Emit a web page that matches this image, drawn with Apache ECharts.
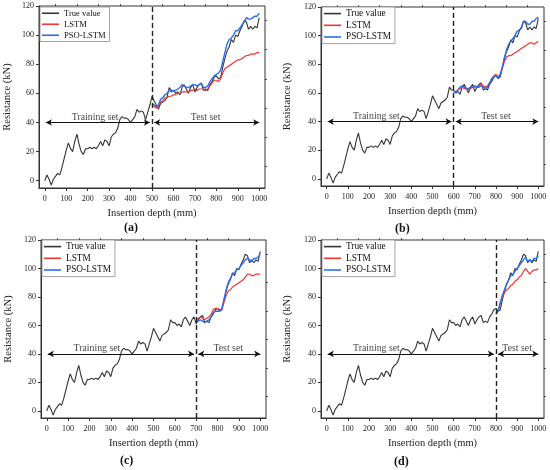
<!DOCTYPE html>
<html>
<head>
<meta charset="utf-8">
<script src="https://cdn.jsdelivr.net/npm/echarts@6/dist/echarts.min.js"></script>
<style>html,body{margin:0;padding:0;background:#fff;}#c{width:550px;height:470px;}</style>
</head>
<body>
<div id="c"></div>
<script>
// ---------- data ----------
const depth = [0,10,20,30,40,50,60,70,80,90,100,110,120,130,140,150,160,170,180,190,200,210,220,230,240,250,260,270,280,290,300,310,320,330,340,350,360,370,380,390,400,410,420,430,440,450,460,470,480,490,500,510,520,530,540,550,560,570,580,590,600,610,620,630,640,650,660,670,680,690,700,710,720,730,740,750,760,770,780,790,800,810,820,830,840,850,860,870,880,890,900,910,920,930,940,950,960,970,980,990,1000];
const trueValue = [0,4,1,-3,1,3,5,4,9,15,21,26,22,20,27,32,25,20,18,22,22,23,22,23,22,24,27,24,28,27,24,30,32,33,36,42,44,43,43,42,40,42,44,49,47,48,47,42,47,52,58,55,52,49,53,54,55,57,64,62,62,60,61,59,64,66,63,60,64,66,61,64,66,67,62,63,62,66,68,71,72,70,71,78,84,89,92,97,95,100,99,103,106,110,109,104,106,104,106,105,112];
const splits = [500, 600, 700, 800];
// LSTM / PSO-LSTM predictions, every 10 mm from the split to 1000 mm
const lstmA = [52,51,50,51,54,55,57,57,58,58,59,59,60,60,61,61,61,61,62,62,63,62,63,63,63,62,63,65,67,69,69,68,70,74,77,78,79,80,81,82,83,83,84,85,86,86,87,87,87,88,88];
const psoA  = [53,52,51,52,56,57,59,60,62,61,62,62,63,64,66,65,64,64,65,66,66,65,66,67,64,64,65,68,70,72,73,74,76,82,88,94,97,98,100,103,103,105,107,109,112,111,111,112,113,113,115];
const lstmB = [61,61,62,63,64,63,63,62,63,64,64,64,65,66,65,64,65,67,70,72,73,71,72,77,82,85,86,86,87,88,89,90,91,92,93,94,95,95,94,95,96];
const psoB  = [61,60,62,64,65,64,63,63,64,64,65,64,64,65,64,63,64,67,70,71,72,71,73,78,85,90,94,96,98,100,103,104,105,110,110,108,108,110,110,112,113];
const lstmC = [64,65,66,65,64,65,66,68,71,72,72,71,71,76,81,84,85,87,88,89,90,91,92,94,96,96,95,95,96,96,96];
const psoC  = [63,63,64,63,62,63,64,66,69,70,70,70,72,78,85,90,93,96,97,99,100,102,104,106,107,106,105,107,107,108,110];
const lstmD = [68,70,75,80,83,85,86,88,89,91,92,94,95,98,100,98,96,98,99,99,100];
const psoD  = [68,70,76,81,85,89,92,95,96,98,100,102,104,106,108,105,106,105,107,107,109];
const lstmAll = [lstmA, lstmB, lstmC, lstmD];
const psoAll = [psoA, psoB, psoC, psoD];
const xTicks = [0,100,200,300,400,500,600,700,800,900,1000];
const xMinor = [50,150,250,350,450,550,650,750,850,950];
const yTicks = [0,20,40,60,80,100,120];
const yMinor = [10,30,50,70,90,110];
const panelLabels = ['(a)','(b)','(c)','(d)'];
const seriesNames = ['True value','LSTM','PSO-LSTM'];
const annotTexts = ['Training set','Test set'];
const annotLevel = 40;
const trainTextX = 235;
const xName = 'Insertion depth (mm)';
const yName = 'Resistance (kN)';

// ---------- layout / style ----------
const FONT = "'Liberation Serif','Times New Roman',serif";
const layout = [
  {left:39,  top:6,   width:226, height:182, yGap:26, legend:{left:40, top:7,   fs:8.6, lh:10.5}, lab:[132,229]},
  {left:321, top:7,   width:223, height:179, yGap:28, legend:{left:322, top:7,   fs:9.3, lh:11.2}, lab:[403,230]},
  {left:41,  top:240, width:225, height:178, yGap:27, legend:{left:42,  top:240, fs:9.3, lh:11.2}, lab:[128,462]},
  {left:321, top:240, width:223, height:178, yGap:28, legend:{left:322, top:240, fs:9.3, lh:11.2}, lab:[402,463]}
];
const colors = ['#363636', '#f03535', '#2a6ef0'];
const XMIN = -27, XMAX = 1027, YMIN = -5, YMAX = 120;

const grid = [], xAxis = [], yAxis = [], series = [], legend = [], graphic = [];
layout.forEach((L, i) => {
  grid.push({left:L.left, top:L.top, width:L.width, height:L.height, show:true,
             borderColor:'#333', borderWidth:1, backgroundColor:'transparent', containLabel:false});
  xAxis.push({type:'value', gridIndex:i, min:XMIN, max:XMAX,
    axisLine:{show:true, onZero:false, lineStyle:{color:'#333', width:1}},
    axisTick:{show:true, inside:false, length:3, customValues:xTicks, lineStyle:{color:'#333'}},
    axisLabel:{show:true, customValues:xTicks, margin:7, fontSize:8, color:'#222', fontFamily:FONT,
      formatter: v => String(v)},
    splitLine:{show:false},
    name:xName, nameLocation:'middle', nameGap:20,
    nameTextStyle:{fontSize:10.5, color:'#222', fontFamily:FONT}});
  xAxis.push({type:'value', gridIndex:i, min:XMIN, max:XMAX,
    axisLine:{show:false, onZero:false},
    axisTick:{show:true, inside:false, length:1.8, customValues:xMinor, lineStyle:{color:'#333'}},
    axisLabel:{show:false}, splitLine:{show:false}});
  yAxis.push({type:'value', gridIndex:i, min:YMIN, max:YMAX,
    axisLine:{show:true, onZero:false, lineStyle:{color:'#333', width:1}},
    axisTick:{show:true, inside:false, length:3, customValues:yTicks, lineStyle:{color:'#333'}},
    axisLabel:{show:true, customValues:yTicks, margin:5, fontSize:8, color:'#222', fontFamily:FONT,
      formatter: v => String(v)},
    splitLine:{show:false},
    name:yName, nameLocation:'middle', nameGap:L.yGap, nameRotate:90,
    nameTextStyle:{fontSize:10.5, color:'#222', fontFamily:FONT}});
  yAxis.push({type:'value', gridIndex:i, min:YMIN, max:YMAX,
    axisLine:{show:false, onZero:false},
    axisTick:{show:true, inside:false, length:1.8, customValues:yMinor, lineStyle:{color:'#333'}},
    axisLabel:{show:false}, splitLine:{show:false}});

  const xi = 2*i, yi = 2*i;
  const split = splits[i];
  const startIdx = depth.indexOf(split);
  const testDepth = depth.slice(startIdx);

  series.push({name:seriesNames[0], type:'line', xAxisIndex:xi, yAxisIndex:yi,
    data: depth.map((d, k) => [d, trueValue[k]]), symbol:'none', showSymbol:false,
    lineStyle:{color:colors[0], width:1.1}, itemStyle:{color:colors[0]}, z:2, animation:false,
    markLine:{silent:true, symbol:['none','none'], animation:false, label:{show:false},
      lineStyle:{type:[5,3], color:'#222', width:1.4},
      data:[{xAxis:split}]}});
  series.push({name:seriesNames[1], type:'line', xAxisIndex:xi, yAxisIndex:yi,
    data: testDepth.map((d, k) => [d, lstmAll[i][k]]), symbol:'none', showSymbol:false,
    lineStyle:{color:colors[1], width:1.2}, itemStyle:{color:colors[1]}, z:3, animation:false});
  series.push({name:seriesNames[2], type:'line', xAxisIndex:xi, yAxisIndex:yi,
    data: testDepth.map((d, k) => [d, psoAll[i][k]]), symbol:'none', showSymbol:false,
    lineStyle:{color:colors[2], width:1.4}, itemStyle:{color:colors[2]}, z:4, animation:false});
  series.push({name:'annot', type:'scatter', xAxisIndex:xi, yAxisIndex:yi, symbolSize:0, z:6,
    silent:true, animation:false,
    data:[[trainTextX, annotLevel, annotTexts[0]], [(split+1000)/2, annotLevel, annotTexts[1]]],
    label:{show:true, position:'top', distance:0, formatter:p => p.value[2],
      fontSize:9.8, color:'#111', fontFamily:FONT},
    markLine:{silent:true, animation:false, symbol:['arrow','arrow'], symbolSize:[5,6],
      label:{show:false}, lineStyle:{type:'solid', color:'#111', width:1},
      data:[[{coord:[5, annotLevel]}, {coord:[split-10, annotLevel]}],
            [{coord:[split+10, annotLevel]}, {coord:[1000, annotLevel]}]]}});

  legend.push({data:seriesNames.map((n, k) => ({name:n, itemStyle:{color:colors[k]}})),
    icon:'rect', orient:'vertical', left:L.legend.left, top:L.legend.top,
    itemWidth:17, itemHeight:1.6, itemGap:0.5, padding:[1,4,1,2], selectedMode:false,
    borderColor:'#8a8a8a', borderWidth:0.8, backgroundColor:'#fff',
    textStyle:{fontSize:L.legend.fs, lineHeight:L.legend.lh, color:'#111', fontFamily:FONT}});

  graphic.push({type:'text', left:L.lab[0]-8, top:L.lab[1]-7,
    style:{text:panelLabels[i], fontSize:12, fontWeight:'bold', fontFamily:FONT, fill:'#111'}});
});

const chart = echarts.init(document.getElementById('c'), null, {renderer:'canvas'});
chart.setOption({animation:false, backgroundColor:'#fff', grid, xAxis, yAxis, series, legend, graphic});
</script>
</body>
</html>
